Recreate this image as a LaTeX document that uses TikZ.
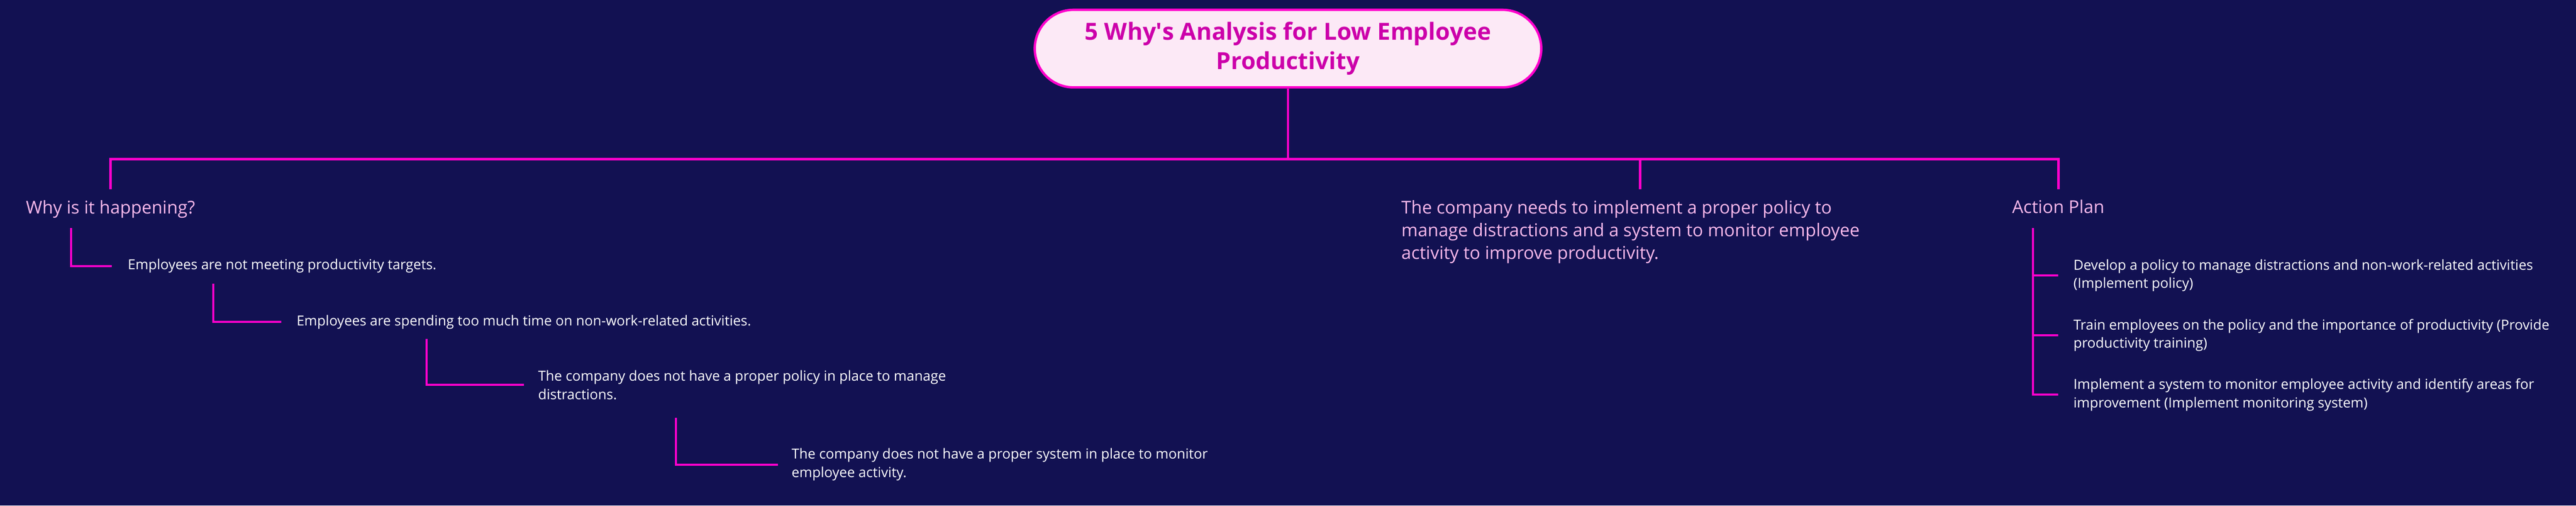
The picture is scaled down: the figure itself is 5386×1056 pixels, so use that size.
\documentclass[tikz,border=0pt]{standalone}
\usepackage{fontspec}
\setmainfont{Open Sans}
\usetikzlibrary{calc}
\definecolor{bg}{HTML}{121152}
\definecolor{pinkline}{HTML}{FF00CC}
\definecolor{titlefill}{HTML}{FCE9F6}
\definecolor{titletext}{HTML}{CC00AA}
\definecolor{lvltext}{HTML}{F9B8EA}
\newlength\measlen
\newcommand\mkfitsize[4]{%
  \settowidth\measlen{#2\fontsize{10pt}{12pt}\selectfont #3}%
  \pgfmathsetmacro#1{10*#4/\measlen}}
\begin{document}
% font sizes fitted to the widths of lines in the reference
\mkfitsize{\titlesize}{\bfseries}{5 Why\textquotesingle s Analysis for Low Employee}{849}%
\mkfitsize{\lvlsize}{}{manage distractions and a system to monitor employee}{958}%
\mkfitsize{\leafsize}{}{Develop a policy to manage distractions and non-work-related activities}{961}%
\begin{tikzpicture}[x=1pt,y=1pt,
  mainline/.style={draw=pinkline,line width=5pt},
  subline/.style={draw=pinkline,line width=4.5pt},
  titlebox/.style={draw=pinkline,line width=5pt,fill=titlefill,rounded corners=81pt,
    minimum width=1059pt,minimum height=162pt,text=titletext,
    font=\bfseries\fontsize{\titlesize}{62}\selectfont,align=center},
  lvl/.style={text=lvltext,font=\fontsize{\lvlsize}{47.5}\selectfont,align=left,inner sep=0pt,anchor=base west},
  leaf/.style={text=white,font=\fontsize{\leafsize}{38.5}\selectfont,align=left,inner sep=0pt,anchor=base west}]
\fill[bg] (0,0) rectangle (5386,-1056);
\useasboundingbox (0,0) rectangle (5386,-1056);

\node[titlebox] (title) at (2693,-101.5) {5 Why\textquotesingle s Analysis for Low Employee\\Productivity};

% base anchor of a multi-line node = baseline of its last line
\node[lvl] (why) at (54,-446) {Why is it happening?};
\node[lvl] (mid) at (2930,-541) {The company needs to implement a proper policy to\\manage distractions and a system to monitor employee\\activity to improve productivity.};
\node[lvl] (ap) at (4207,-445) {Action Plan};

\node[leaf] (c1) at (267,-563) {Employees are not meeting productivity targets.};
\node[leaf] (c2) at (620,-680) {Employees are spending too much time on non-work-related activities.};
\node[leaf] (c3) at (1125,-834) {The company does not have a proper policy in place to manage\\distractions.};
\node[leaf] (c4) at (1655,-997) {The company does not have a proper system in place to monitor\\employee activity.};

\node[leaf] (a1) at (4335,-602) {Develop a policy to manage distractions and non-work-related activities\\(Implement policy)};
\node[leaf] (a2) at (4335,-727) {Train employees on the policy and the importance of productivity (Provide\\productivity training)};
\node[leaf] (a3) at (4335,-851) {Implement a system to monitor employee activity and identify areas for\\improvement (Implement monitoring system)};

\coordinate (bus) at (0,-332);
\coordinate (midtop) at ($(mid.base west)+(499,146)$);
\draw[mainline] (title.south) -- (title.south |- bus);
\draw[mainline] ($(why.base)+(0,51)$) -- (why.base |- bus) -- (ap.base |- bus) -- ($(ap.base)+(0,50)$);
\draw[mainline] (midtop |- bus) -- (midtop);

\coordinate (w1) at ($(why.base west)+(95,-30)$);
\draw[subline] (w1) |- ([xshift=-33pt]c1.west);
\coordinate (w2) at ($(c1.base west)+(179,-29)$);
\draw[subline] (w2) |- ([xshift=-32pt]c2.west);
\coordinate (w3) at ($(c2.base west)+(272,-28)$);
\draw[subline] (w3) |- ([xshift=-30pt]c3.west);
\coordinate (w4) at ($(c3.base west)+(288,-39)$);
\draw[subline] (w4) |- ([xshift=-28pt]c4.west);
\coordinate (w5) at ($(ap.base west)+(44,-31)$);
\draw[subline] (w5) |- ([xshift=-32pt]a1.west);
\draw[subline] (w5) |- ([xshift=-32pt]a2.west);
\draw[subline] (w5) |- ([xshift=-32pt]a3.west);
\end{tikzpicture}
\end{document}
